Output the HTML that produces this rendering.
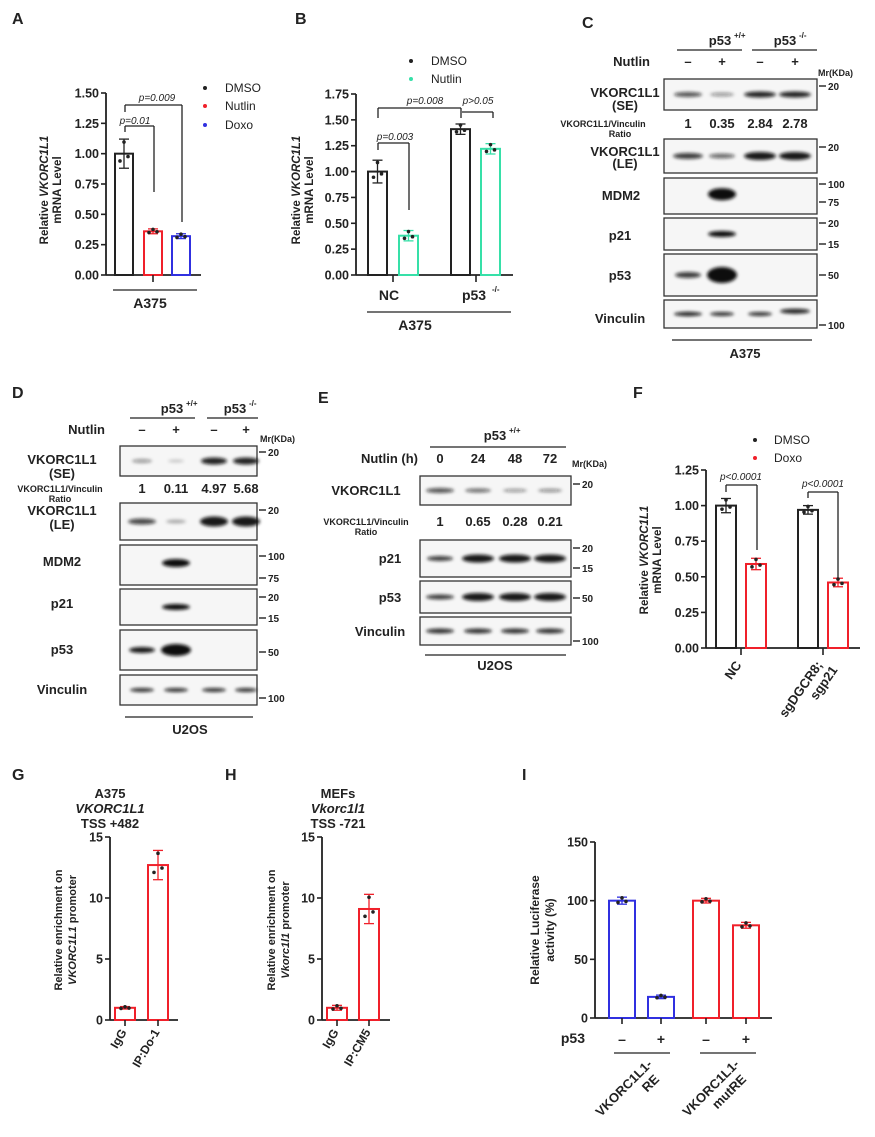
<!DOCTYPE html>
<html><head><meta charset="utf-8">
<style>
body{margin:0;background:#fff;}
svg{display:block;font-family:"Liberation Sans",Arial,sans-serif;}
text{fill:#222;}
</style></head>
<body>
<svg id="fig" width="875" height="1137" viewBox="0 0 875 1137">
<defs><filter id="bl" x="-20%" y="-100%" width="140%" height="300%"><feGaussianBlur stdDeviation="1.6"/></filter></defs>
</svg>
<script>
// ---- data ----
const aCats=["DMSO","Nutlin","Doxo"];
const aVals=[1.00,0.36,0.32];
const aErr=[0.12,0.02,0.02];
const aTicks=[0,0.25,0.5,0.75,1.0,1.25,1.5];
const bVals=[1.00,0.38,1.41,1.22];
const bErr=[0.11,0.05,0.05,0.05];
const bTicks=[0,0.25,0.5,0.75,1.0,1.25,1.5,1.75];
const fVals=[1.00,0.59,0.97,0.46];
const fErr=[0.05,0.04,0.03,0.03];
const fTicks=[0,0.25,0.5,0.75,1.0,1.25];
const gVals=[1.0,12.7];
const gErr=[0.1,1.2];
const hVals=[1.0,9.1];
const hErr=[0.2,1.2];
const ghTicks=[0,5,10,15];
const iVals=[100,18,100,79];
const iErr=[3,1.5,2,2.5];
const iTicks=[0,50,100,150];
const cRatio=["1","0.35","2.84","2.78"];
const dRatio=["1","0.11","4.97","5.68"];
const eRatio=["1","0.65","0.28","0.21"];

const S=document.getElementById('fig');const NS="http://www.w3.org/2000/svg";
function el(t,a,p){const e=document.createElementNS(NS,t);for(const k in a)e.setAttribute(k,a[k]);(p||S).appendChild(e);return e;}
function tx(x,y,s,o){o=o||{};const e=el('text',{x:x,y:y,'font-size':o.fs||12,'text-anchor':o.a||'start','font-weight':o.w||'bold'});if(o.it)e.setAttribute('font-style','italic');if(o.r)e.setAttribute('transform','rotate('+o.r+' '+x+' '+y+')');e.textContent=s;return e;}
function ytitle(x,y,pre,it,post,fs){const e=el('text',{x:x,y:y,'font-size':fs||11.5,'text-anchor':'middle','font-weight':'bold',transform:'rotate(-90 '+x+' '+y+')'});
  const a=el('tspan',{},e);a.textContent=pre;const b=el('tspan',{'font-style':'italic'},e);b.textContent=it;const c=el('tspan',{},e);c.textContent=post;return e;}
function ln(x1,y1,x2,y2,c,w){const e=el('line',{x1:x1,y1:y1,x2:x2,y2:y2,stroke:c||'#222','stroke-width':w||1.6});return e;}

function chart(o){
  const sc=v=>o.y0-(v-o.ticks[0])/(o.ticks[o.ticks.length-1]-o.ticks[0])*(o.y0-o.yTop);
  ln(o.ax,o.yTop,o.ax,o.y0,'#222',1.8);ln(o.ax,o.y0,o.axEnd,o.y0,'#222',1.8);
  o.ticks.forEach(t=>{const y=sc(t);ln(o.ax-5,y,o.ax,y,'#222',1.6);tx(o.ax-7,y+4.5,o.fmt(t),{a:'end',fs:o.tfs||12.5,n:'y-tick-label'});});
  o.vals.forEach((v,i)=>{
    const x=o.bx[i],w=o.bw,c=o.cols[i],y=sc(v);
    const r=el('rect',{x:x,y:y,width:w,height:o.y0-y,fill:'none',stroke:c,'stroke-width':2});
    
    const cx=x+w/2,e1=sc(v+o.err[i]),e2=sc(Math.max(0,v-o.err[i]));
    ln(cx,e1,cx,e2,c,1.3);ln(cx-5,e1,cx+5,e1,c,1.3);ln(cx-5,e2,cx+5,e2,c,1.3);
    [-4,0,4].forEach((d,k)=>{const p=el('circle',{cx:cx+d,cy:sc(v+o.err[i]*[-0.5,0.8,-0.2][k]),r:1.8,fill:o.dot||'#222'});});
  });
  return sc;
}
const f2=t=>t.toFixed(2), f0=t=>String(t);

[["A",12,24],["B",295,24],["C",582,28],["D",12,398],["E",318,403],["F",633,398],["G",12,780],["H",225,780],["I",522,780]].forEach(p=>tx(p[1],p[2],p[0],{fs:16,n:'panel-letter-'+p[0].toLowerCase()}));

// ---- A ----
chart({name:'chart-a',ax:106,axEnd:201,y0:275,yTop:93,ticks:aTicks,fmt:f2,vals:aVals,err:aErr,bx:[115,144,172],bw:18,cols:['#222','#f0202a','#3030e0']});
ln(153,275,153,282);ln(113,290,197,290,'#222',1.2);tx(150,308,"A375",{a:'middle',fs:14});
ytitle(48,190,"Relative ","VKORC1L1","");ytitle(61,190,"mRNA Level","","");
ln(125,126,154,126,'#222',1.3);ln(154,126,154,192,'#222',1.3);ln(125,126,125,132,'#222',1.3);
tx(135,124,"p=0.01",{a:'middle',fs:10,it:1,w:'normal'});
ln(125,105,182,105,'#222',1.3);ln(125,105,125,112,'#222',1.3);ln(182,105,182,222,'#222',1.3);tx(157,101,"p=0.009",{a:'middle',fs:10,it:1,w:'normal'});
[["DMSO",'#222',92],["Nutlin",'#f0202a',110],["Doxo",'#3030e0',129]].forEach(l=>{el('circle',{cx:205,cy:l[2]-4,r:2,fill:l[1]});tx(225,l[2],l[0],{fs:12,w:'normal',n:'legend-entry'});});

// ---- B ----
chart({name:'chart-b',ax:356,axEnd:513,y0:275,yTop:94,ticks:bTicks,fmt:f2,vals:bVals,err:bErr,bx:[368,399,451,481],bw:19,cols:['#222','#36e0a8','#222','#36e0a8'],dot:'#222'});
ln(393,275,393,282);ln(476,275,476,282);
tx(389,300,"NC",{a:'middle',fs:14});tx(474,300,"p53",{a:'middle',fs:14});tx(492,292,"-/-",{fs:8});
ln(367,312,511,312,'#222',1.2);tx(415,330,"A375",{a:'middle',fs:14});
ytitle(300,190,"Relative ","VKORC1L1","");ytitle(313,190,"mRNA Level","","");
ln(378,143,409,143,'#222',1.3);ln(378,143,378,150,'#222',1.3);ln(409,143,409,210,'#222',1.3);tx(395,140,"p=0.003",{a:'middle',fs:10,it:1,w:'normal'});
ln(378,108,461,108,'#222',1.3);ln(378,108,378,118,'#222',1.3);ln(461,108,461,118,'#222',1.3);tx(425,104,"p=0.008",{a:'middle',fs:10,it:1,w:'normal'});
ln(462,112,493,112,'#222',1.3);ln(493,112,493,118,'#222',1.3);tx(478,104,"p>0.05",{a:'middle',fs:10,it:1,w:'normal'});
[["DMSO",'#222',65],["Nutlin",'#36e0a8',83]].forEach(l=>{el('circle',{cx:411,cy:l[2]-4,r:2,fill:l[1]});tx(431,l[2],l[0],{fs:12,w:'normal',n:'legend-entry'});});

// ---- westerns ----
function blot(name,x,y,w,h,lanes,bands){
  const g=el('g',{});
  const r=el('rect',{x:x,y:y,width:w,height:h,fill:'#f6f6f6',stroke:'#333','stroke-width':1.3},g);
  
  bands.forEach((b,i)=>{if(!b)return;const e=el('ellipse',{cx:lanes[i],cy:y+h*(b[2]||0.5),rx:b[0],ry:b[1],fill:'#111','fill-opacity':b[3]||0.85,filter:'url(#bl)'},g);});
}
function mr(x,y,s){ln(x,y,x+7,y,'#222',1.4);tx(x+9,y+4,s,{fs:10,n:'mw-marker'});}
// C
const cL=[688,722,760,795];
tx(720,45,"p53",{a:'middle',fs:13});tx(734,38,"+/+",{fs:8});tx(785,45,"p53",{a:'middle',fs:13});tx(799,38,"-/-",{fs:8});
ln(677,50,742,50,'#222',1.2);ln(752,50,817,50,'#222',1.2);
tx(650,66,"Nutlin",{a:'end',fs:13});["–","+","–","+"].forEach((s,i)=>tx(cL[i],66,s,{a:'middle',fs:13}));
tx(818,76,"Mr(KDa)",{fs:9});
tx(625,97,"VKORC1L1",{a:'middle',fs:13});tx(625,110,"(SE)",{a:'middle',fs:13});
blot('blot-c-se',664,79,153,31,cL,[[14,2.5,0.5,0.7],[12,2,0.5,0.4],[16,3,0.5,0.9],[16,3,0.5,0.9]]);mr(819,86,"20");
tx(603,127,"VKORC1L1/Vinculin",{a:'middle',fs:9});tx(620,137,"Ratio",{fs:9,a:'middle'});
cRatio.forEach((s,i)=>tx(cL[i],128,s,{a:'middle',fs:13,n:'ratio-value'}));
tx(625,156,"VKORC1L1",{a:'middle',fs:13});tx(625,168,"(LE)",{a:'middle',fs:13});
blot('blot-c-le',664,139,153,34,cL,[[15,3,0.5,0.8],[13,2.5,0.5,0.6],[16,4,0.5,0.95],[16,4,0.5,0.95]]);mr(819,147,"20");
tx(621,200,"MDM2",{a:'middle',fs:13});blot('blot-c-mdm2',664,178,153,36,cL,[null,[14,6,0.45,1]]);mr(819,184,"100");mr(819,202,"75");
tx(620,240,"p21",{a:'middle',fs:13});blot('blot-c-p21',664,218,153,32,cL,[null,[14,3,0.5,1]]);mr(819,223,"20");mr(819,244,"15");
tx(620,280,"p53",{a:'middle',fs:13});blot('blot-c-p53',664,254,153,42,cL,[[13,3,0.5,0.8],[15,8,0.5,1]]);mr(819,275,"50");
tx(620,323,"Vinculin",{a:'middle',fs:13});blot('blot-c-vinc',664,300,153,28,cL,[[14,2.2,0.5,0.9],[12,2,0.5,0.85],[12,2,0.5,0.85],[15,2.5,0.4,0.9]]);mr(819,325,"100");
ln(672,340,812,340,'#222',1.2);tx(745,358,"A375",{a:'middle',fs:13});
// D
const dL=[142,176,214,246];
tx(172,413,"p53",{a:'middle',fs:13});tx(186,406,"+/+",{fs:8});tx(235,413,"p53",{a:'middle',fs:13});tx(249,406,"-/-",{fs:8});
ln(130,418,195,418,'#222',1.2);ln(207,418,258,418,'#222',1.2);
tx(105,434,"Nutlin",{a:'end',fs:13});["–","+","–","+"].forEach((s,i)=>tx(dL[i],434,s,{a:'middle',fs:13}));
tx(260,442,"Mr(KDa)",{fs:9});
tx(62,464,"VKORC1L1",{a:'middle',fs:13});tx(62,478,"(SE)",{a:'middle',fs:13});
blot('blot-d-se',120,446,137,30,dL,[[10,2,0.5,0.4],[8,1.5,0.5,0.2],[13,3.5,0.5,0.9],[13,3.5,0.5,0.9]]);mr(259,452,"20");
tx(60,492,"VKORC1L1/Vinculin",{a:'middle',fs:9});tx(60,502,"Ratio",{a:'middle',fs:9});
dRatio.forEach((s,i)=>tx(dL[i],493,s,{a:'middle',fs:13,n:'ratio-value'}));
tx(62,515,"VKORC1L1",{a:'middle',fs:13});tx(62,529,"(LE)",{a:'middle',fs:13});
blot('blot-d-le',120,503,137,37,dL,[[14,3,0.5,0.75],[10,2,0.5,0.3],[14,5,0.5,0.95],[14,5,0.5,0.95]]);mr(259,510,"20");
tx(62,566,"MDM2",{a:'middle',fs:13});blot('blot-d-mdm2',120,545,137,40,dL,[null,[14,4,0.45,1]]);mr(259,556,"100");mr(259,578,"75");
tx(62,608,"p21",{a:'middle',fs:13});blot('blot-d-p21',120,589,137,36,dL,[null,[14,3,0.5,1]]);mr(259,597,"20");mr(259,618,"15");
tx(62,654,"p53",{a:'middle',fs:13});blot('blot-d-p53',120,630,137,40,dL,[[13,3,0.5,0.95],[15,6,0.5,1]]);mr(259,652,"50");
tx(62,694,"Vinculin",{a:'middle',fs:13});blot('blot-d-vinc',120,675,137,30,dL,[[12,2,0.5,0.85],[12,2,0.5,0.85],[12,2,0.5,0.85],[11,2,0.5,0.85]]);mr(259,698,"100");
ln(125,717,253,717,'#222',1.2);tx(190,734,"U2OS",{a:'middle',fs:13});
// E
const eL=[440,478,515,550];
tx(495,440,"p53",{a:'middle',fs:13});tx(509,433,"+/+",{fs:8});ln(430,447,566,447,'#222',1.2);
tx(418,463,"Nutlin (h)",{a:'end',fs:13});["0","24","48","72"].forEach((s,i)=>tx(eL[i],463,s,{a:'middle',fs:13}));
tx(572,467,"Mr(KDa)",{fs:9});
tx(366,495,"VKORC1L1",{a:'middle',fs:13});blot('blot-e-vk',420,476,151,29,eL,[[14,2.5,0.5,0.7],[13,2,0.5,0.6],[12,1.8,0.5,0.4],[12,1.8,0.5,0.45]]);mr(573,484,"20");
tx(366,525,"VKORC1L1/Vinculin",{a:'middle',fs:9});tx(366,535,"Ratio",{a:'middle',fs:9});
eRatio.forEach((s,i)=>tx(eL[i],526,s,{a:'middle',fs:13,n:'ratio-value'}));
tx(390,563,"p21",{a:'middle',fs:13});blot('blot-e-p21',420,540,151,37,eL,[[13,2.5,0.5,0.8],[16,4,0.5,0.95],[16,4,0.5,0.95],[16,4,0.5,0.95]]);mr(573,548,"20");mr(573,568,"15");
tx(390,602,"p53",{a:'middle',fs:13});blot('blot-e-p53',420,581,151,32,eL,[[14,2.5,0.5,0.8],[16,4,0.5,0.95],[16,4,0.5,0.95],[16,4,0.5,0.95]]);mr(573,598,"50");
tx(380,636,"Vinculin",{a:'middle',fs:13});blot('blot-e-vinc',420,617,151,28,eL,[[14,2.5,0.5,0.85],[14,2.5,0.5,0.85],[14,2.5,0.5,0.85],[14,2.5,0.5,0.85]]);mr(573,641,"100");
ln(425,655,566,655,'#222',1.2);tx(495,670,"U2OS",{a:'middle',fs:13});

// ---- F ----
chart({name:'chart-f',ax:706,axEnd:860,y0:648,yTop:470,ticks:fTicks,fmt:f2,vals:fVals,err:fErr,bx:[716,746,798,828],bw:20,cols:['#222','#f0202a','#222','#f0202a'],dot:'#222'});
ln(741,648,741,655);ln(823,648,823,655);
tx(742,665,"NC",{a:'end',fs:13,r:-55});tx(823,665,"sgDGCR8;",{a:'end',fs:13,r:-55});tx(838,670,"sgp21",{a:'end',fs:13,r:-55});
ytitle(648,560,"Relative ","VKORC1L1","");ytitle(661,560,"mRNA Level","","");
ln(726,485,757,485,'#222',1.3);ln(726,485,726,492,'#222',1.3);ln(757,485,757,550,'#222',1.3);tx(741,480,"p<0.0001",{a:'middle',fs:10,it:1,w:'normal'});
ln(808,492,838,492,'#222',1.3);ln(808,492,808,498,'#222',1.3);ln(838,492,838,578,'#222',1.3);tx(823,487,"p<0.0001",{a:'middle',fs:10,it:1,w:'normal'});
[["DMSO",'#222',444],["Doxo",'#f0202a',462]].forEach(l=>{el('circle',{cx:755,cy:l[2]-4,r:2,fill:l[1]});tx(774,l[2],l[0],{fs:12,w:'normal',n:'legend-entry'});});

// ---- G ----
chart({name:'chart-g',ax:110,axEnd:178,y0:1020,yTop:837,ticks:ghTicks,fmt:f0,vals:gVals,err:gErr,bx:[115,148],bw:20,cols:['#f0202a','#f0202a'],dot:'#222'});
ln(125,1020,125,1026);ln(158,1020,158,1026);
tx(127,1032,"IgG",{a:'end',fs:12,r:-60});tx(160,1032,"IP:Do-1",{a:'end',fs:12,r:-60});
tx(110,798,"A375",{a:'middle',fs:13});tx(110,813,"VKORC1L1",{a:'middle',fs:13,it:1});tx(110,828,"TSS +482",{a:'middle',fs:13});
ytitle(62,930,"Relative enrichment on","","",11);ytitle(76,930,"","VKORC1L1"," promoter",11);
// ---- H ----
chart({name:'chart-h',ax:322,axEnd:390,y0:1020,yTop:837,ticks:ghTicks,fmt:f0,vals:hVals,err:hErr,bx:[327,359],bw:20,cols:['#f0202a','#f0202a'],dot:'#222'});
ln(337,1020,337,1026);ln(369,1020,369,1026);
tx(339,1032,"IgG",{a:'end',fs:12,r:-60});tx(371,1032,"IP:CM5",{a:'end',fs:12,r:-60});
tx(338,798,"MEFs",{a:'middle',fs:13});tx(338,813,"Vkorc1l1",{a:'middle',fs:13,it:1});tx(338,828,"TSS -721",{a:'middle',fs:13});
ytitle(275,930,"Relative enrichment on","","",11);ytitle(289,930,"","Vkorc1l1"," promoter",11);
// ---- I ----
chart({name:'chart-i',ax:595,axEnd:772,y0:1018,yTop:842,ticks:iTicks,fmt:f0,vals:iVals,err:iErr,bx:[609,648,693,733],bw:26,cols:['#3030e0','#3030e0','#f0202a','#f0202a'],dot:'#222'});
[622,661,706,746].forEach((x,i)=>{ln(x,1018,x,1024);tx(x,1044,i%2?"+":"–",{a:'middle',fs:14});});
tx(585,1043,"p53",{a:'end',fs:14});
ln(614,1053,670,1053,'#222',1.2);ln(700,1053,756,1053,'#222',1.2);
tx(653,1065,"VKORC1L1-",{a:'end',fs:13,r:-45});tx(660,1080,"RE",{a:'end',fs:13,r:-45});
tx(740,1065,"VKORC1L1-",{a:'end',fs:13,r:-45});tx(747,1080,"mutRE",{a:'end',fs:13,r:-45});
ytitle(539,930,"Relative Luciferase","","",12);ytitle(554,930,"activity (%)","","",12);
</script>
</body></html>
